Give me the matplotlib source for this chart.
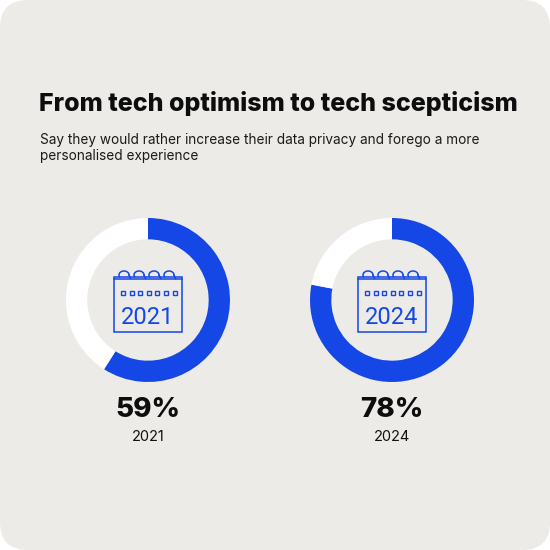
import matplotlib
matplotlib.use("Agg")
import matplotlib.pyplot as plt
from matplotlib.patches import FancyBboxPatch, Rectangle, Arc

# data
years = ["2021", "2024"]
shares = [59, 78]
title = "From tech optimism to tech scepticism"
subtitle = "Say they would rather increase their data privacy and forego a more\npersonalised experience"

BG = "#EDEBE7"
BLUE = "#1447E6"
W = 550
FONT = "Inter"

fig = plt.figure(figsize=(5.5, 5.5), dpi=100)
fig.patch.set_facecolor("white")

ax = fig.add_axes([0, 0, 1, 1])
ax.set_xlim(0, W)
ax.set_ylim(W, 0)
ax.axis("off")

# card background
card = FancyBboxPatch((0, 0), W, W, boxstyle="round,pad=0,rounding_size=28",
                      facecolor=BG, edgecolor="none")
ax.add_patch(card)

ax.text(39, 104, title, fontsize=18, fontweight="heavy", family=FONT,
        ha="left", va="center", color="#0d0d0d")
ax.text(40, 148, subtitle, fontsize=9.8, family=FONT, ha="left", va="center",
        color="#1a1a1a", linespacing=1.2)


def calendar(cx, cy, label):
    # icon drawn in pixel coords around the donut centre
    left, right = cx - 34, cx + 34
    top, bottom = cy - 23, cy + 32
    ax.add_patch(Rectangle((left, top), right - left, bottom - top,
                           fill=False, edgecolor=BLUE, lw=1.1))
    ax.plot([left, right], [top + 1.5, top + 1.5], color=BLUE, lw=1.1)
    for dx in [-24, -9, 6, 21]:
        ax.add_patch(Arc((cx + dx, top - 2), 10, 8, theta1=150, theta2=10,
                         edgecolor=BLUE, lw=1.1))
        ax.plot([cx + dx + 5, cx + dx + 6.5], [top - 2, top + 1.5], color=BLUE, lw=1.1)
    for i in range(7):
        sx = cx - 27 + i * 8.6
        ax.add_patch(Rectangle((sx, top + 14), 4, 4, fill=False,
                               edgecolor=BLUE, lw=1.0))
    ax.text(cx, cy + 17, label, fontsize=17, family="Roboto", fontweight="normal",
            ha="center", va="center", color=BLUE)


centres = [(148, 300), (392, 300)]
radius = 82
for (cx, cy), yr, val in zip(centres, years, shares):
    dax = fig.add_axes([(cx - radius) / W, (W - cy - radius) / W,
                        2 * radius / W, 2 * radius / W])
    dax.pie([val, 100 - val], colors=[BLUE, "white"], startangle=90,
            counterclock=False, radius=1,
            wedgeprops=dict(width=0.26, edgecolor="none"))
    dax.set_xlim(-1, 1)
    dax.set_ylim(-1, 1)
    dax.set_aspect("equal")
    dax.axis("off")

    calendar(cx, cy, yr)
    ax.text(cx, 410, f"{val}%", fontsize=20, fontweight="heavy", family=FONT,
            ha="center", va="center", color="#0d0d0d")
    ax.text(cx, 437, yr, fontsize=10.5, family=FONT, ha="center", va="center",
            color="#111111")

fig.savefig("out.png", dpi=100, facecolor=fig.get_facecolor())
